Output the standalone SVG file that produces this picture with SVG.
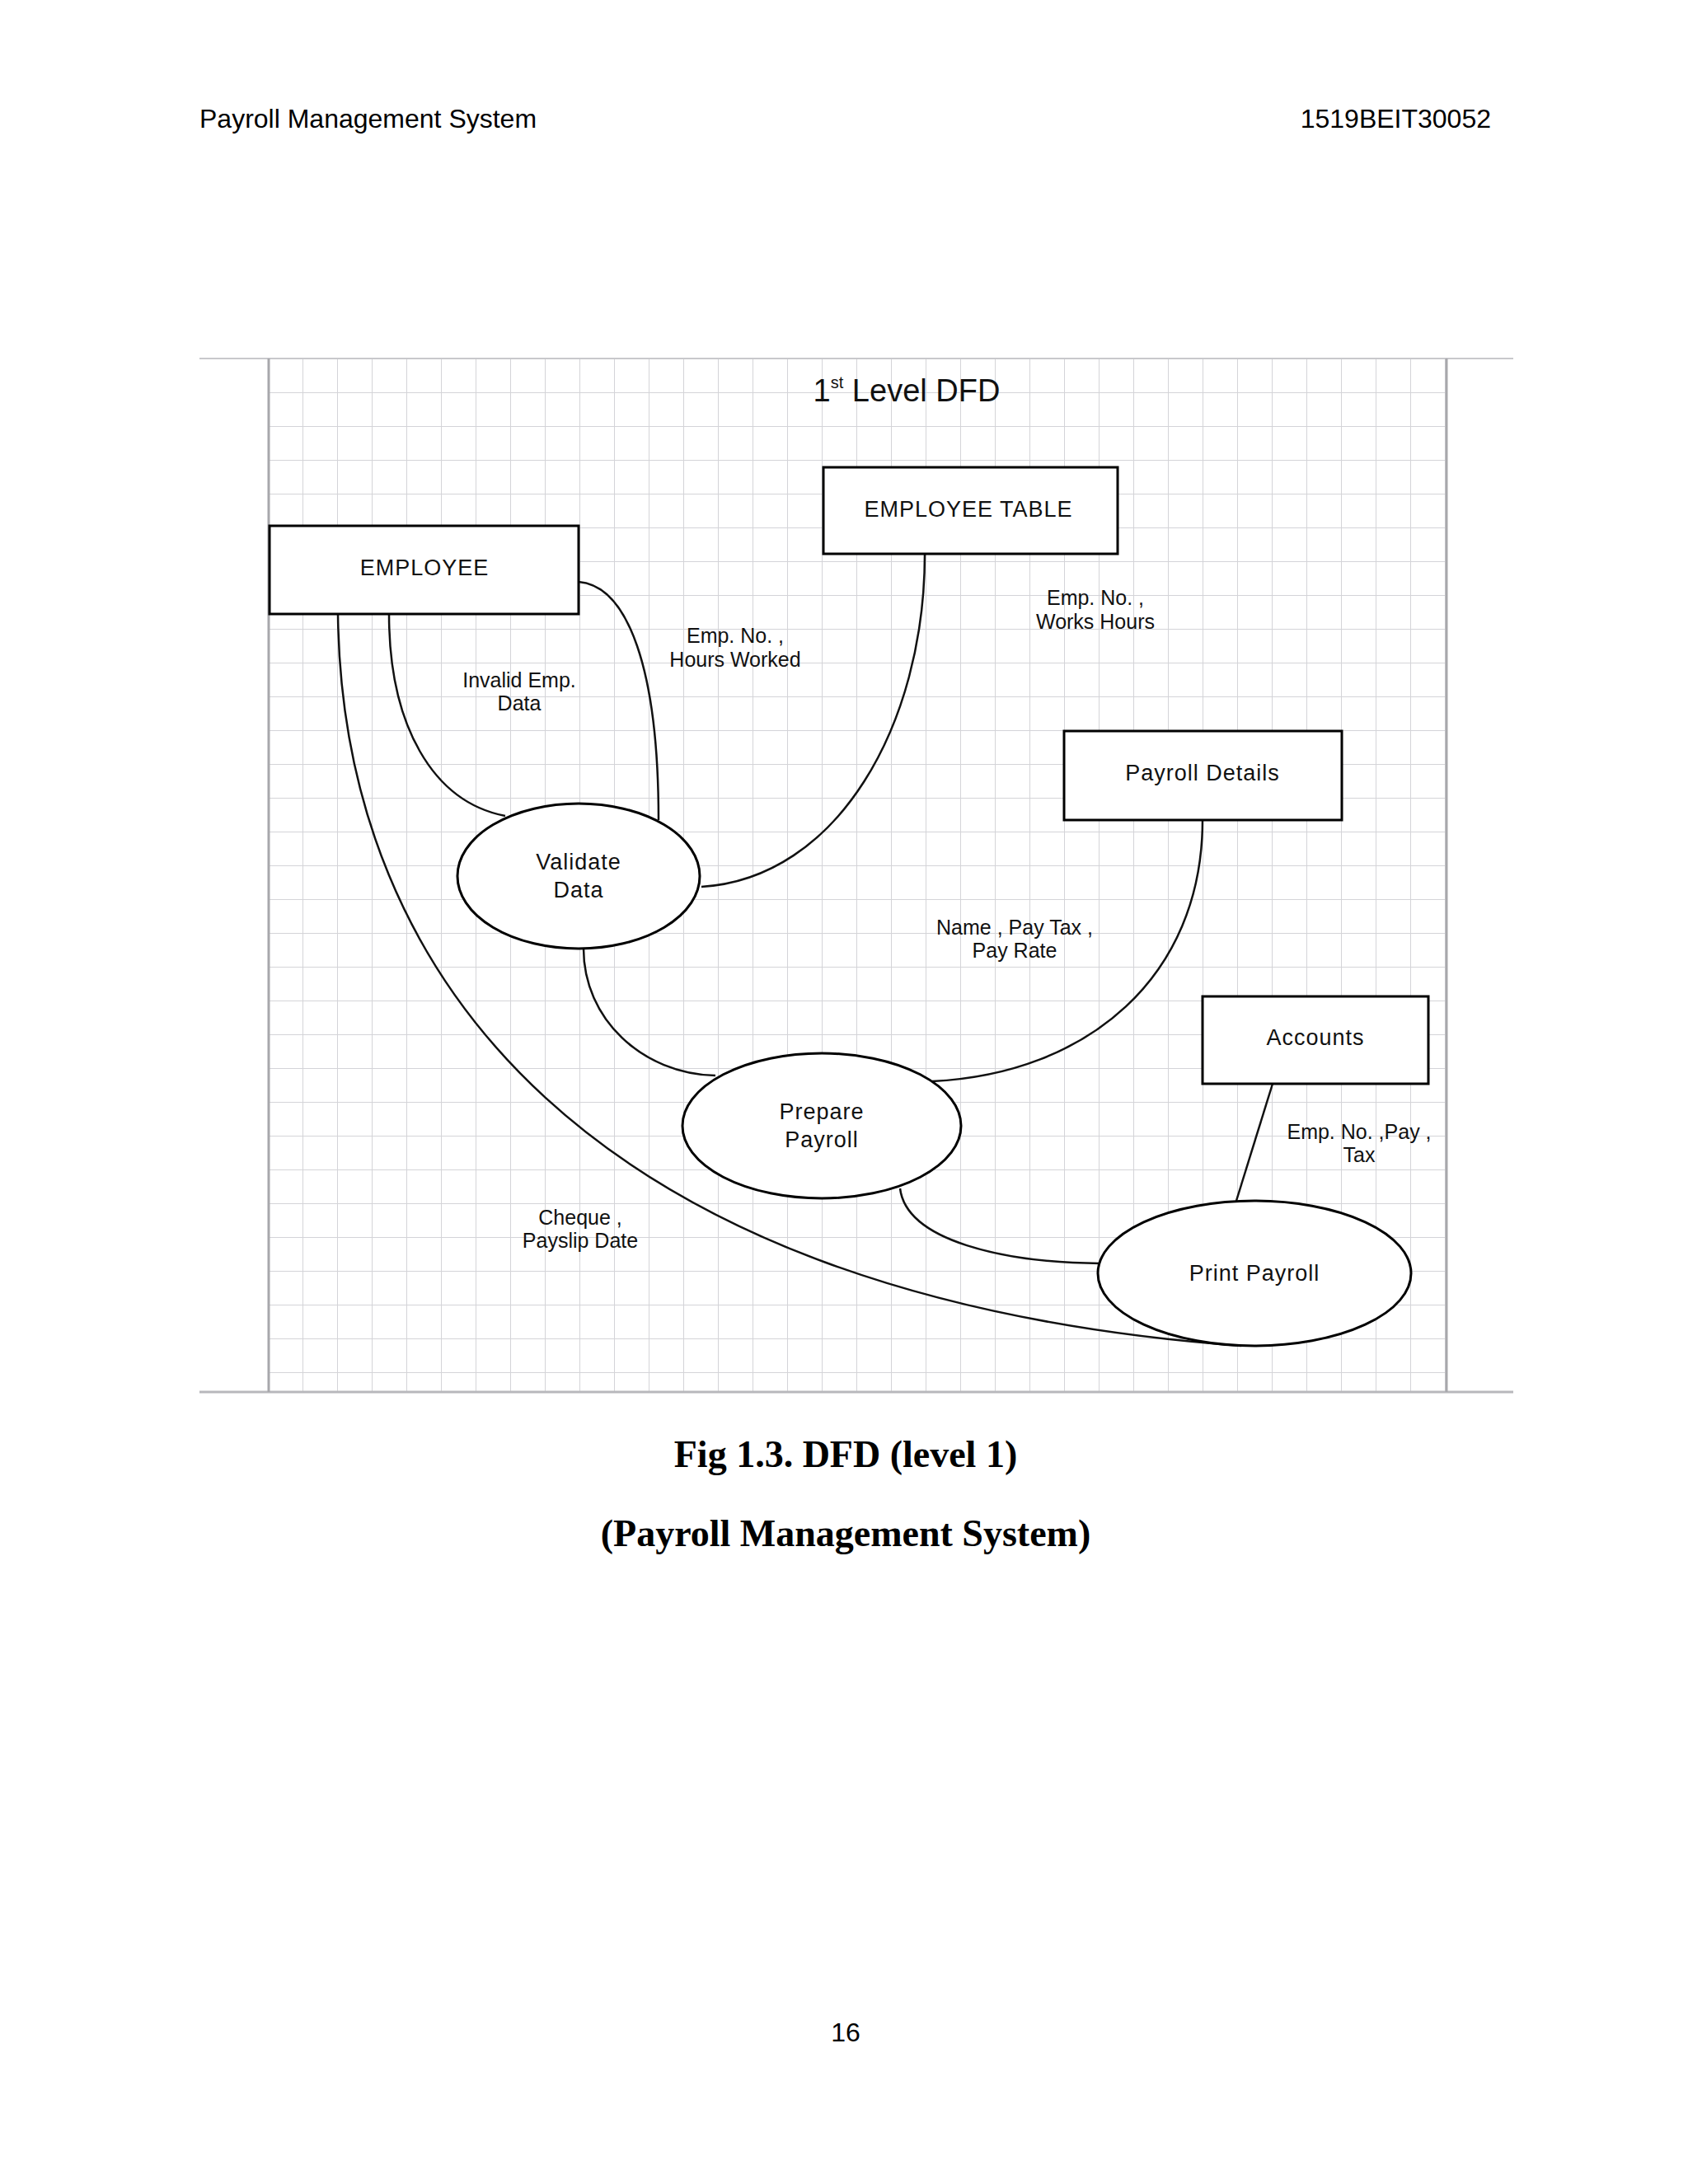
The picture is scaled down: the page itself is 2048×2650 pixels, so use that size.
<svg xmlns="http://www.w3.org/2000/svg" width="2048" height="2650" viewBox="0 0 2048 2650">
<defs>
<pattern id="grid" x="325" y="435" width="42" height="41" patternUnits="userSpaceOnUse">
<path d="M0,0 V41 M0,0 H42" fill="none" stroke="#d4d4d8" stroke-width="2"/>
</pattern>
<style>
.hdr{font-family:"Liberation Sans",Arial,sans-serif;font-size:32px;fill:#000}
.cap{font-family:"Liberation Serif","Times New Roman",serif;font-size:46px;font-weight:bold;fill:#000;text-anchor:middle}
.box{fill:#fff;stroke:#000;stroke-width:3}
.nt{font-family:"Liberation Sans",Arial,sans-serif;font-size:27px;fill:#111;text-anchor:middle;letter-spacing:1px}
.lb{font-family:"Liberation Sans",Arial,sans-serif;font-size:25px;fill:#111;text-anchor:middle}
.cn{fill:none;stroke:#111;stroke-width:2.5}
</style>
</defs>
<rect width="2048" height="2650" fill="#fff"/>
<text class="hdr" x="242" y="155">Payroll Management System</text>
<text class="hdr" x="1809" y="155" text-anchor="end">1519BEIT30052</text>
<rect x="325" y="435" width="1430" height="1254" fill="url(#grid)"/>
<line x1="242" y1="435" x2="1836" y2="435" stroke="#c8c8cc" stroke-width="2"/>
<line x1="242" y1="1689" x2="1836" y2="1689" stroke="#b8b8bc" stroke-width="3"/>
<line x1="326" y1="435" x2="326" y2="1689" stroke="#a8a8ac" stroke-width="3"/>
<line x1="1755" y1="435" x2="1755" y2="1689" stroke="#a8a8ac" stroke-width="3"/>
<text x="1100" y="487" font-family="Liberation Sans,Arial,sans-serif" font-size="38" text-anchor="middle" fill="#111">1<tspan font-size="20" dy="-16">st</tspan><tspan dy="16"> Level DFD</tspan></text>
<g id="connectors">
<path class="cn" d="M702,706 C762,711 799,812 799,995"/>
<path class="cn" d="M472,745 C472,880 525,973 613,990"/>
<path class="cn" d="M410,745 C415,1185 711,1574 1506,1633"/>
<path class="cn" d="M1122,672 C1122,880 1016,1066 851,1076"/>
<path class="cn" d="M708,1151 C708,1236 779,1303 868,1305"/>
<path class="cn" d="M1459,995 C1459,1185 1320,1303 1131,1312"/>
<path class="cn" d="M1092,1442 C1100,1506 1219,1532 1335,1533"/>
<path class="cn" d="M1544,1315 L1500,1457"/>
</g>
<g id="employee"><rect class="box" x="327" y="638" width="375" height="107"/><text class="nt" x="515" y="698">EMPLOYEE</text></g>
<g id="employee-table"><rect class="box" x="999" y="567" width="357" height="105"/><text class="nt" x="1175" y="627">EMPLOYEE TABLE</text></g>
<g id="payroll-details"><rect class="box" x="1291" y="887" width="337" height="108"/><text class="nt" x="1459" y="947">Payroll Details</text></g>
<g id="accounts"><rect class="box" x="1459" y="1209" width="274" height="106"/><text class="nt" x="1596" y="1268">Accounts</text></g>
<g id="validate-data"><ellipse class="box" cx="702" cy="1063" rx="147" ry="88"/><text class="nt" x="702" y="1055">Validate</text><text class="nt" x="702" y="1089">Data</text></g>
<g id="prepare-payroll"><ellipse class="box" cx="997" cy="1366" rx="169" ry="88"/><text class="nt" x="997" y="1358">Prepare</text><text class="nt" x="997" y="1392">Payroll</text></g>
<g id="print-payroll"><ellipse class="box" cx="1522" cy="1545" rx="190" ry="88"/><text class="nt" x="1522" y="1554">Print Payroll</text></g>
<g id="labels">
<text class="lb" x="892" y="780">Emp. No. ,</text><text class="lb" x="892" y="809">Hours Worked</text>
<text class="lb" x="630" y="834">Invalid Emp.</text><text class="lb" x="630" y="862">Data</text>
<text class="lb" x="1329" y="734">Emp. No. ,</text><text class="lb" x="1329" y="763">Works Hours</text>
<text class="lb" x="1231" y="1134">Name , Pay Tax ,</text><text class="lb" x="1231" y="1162">Pay Rate</text>
<text class="lb" x="1649" y="1382">Emp. No. ,Pay ,</text><text class="lb" x="1649" y="1410">Tax</text>
<text class="lb" x="704" y="1486">Cheque ,</text><text class="lb" x="704" y="1514">Payslip Date</text>
</g>
<text class="cap" x="1026" y="1780">Fig 1.3. DFD (level 1)</text>
<text class="cap" x="1026" y="1876">(Payroll Management System)</text>
<text class="hdr" x="1026" y="2477" text-anchor="middle">16</text>
</svg>
